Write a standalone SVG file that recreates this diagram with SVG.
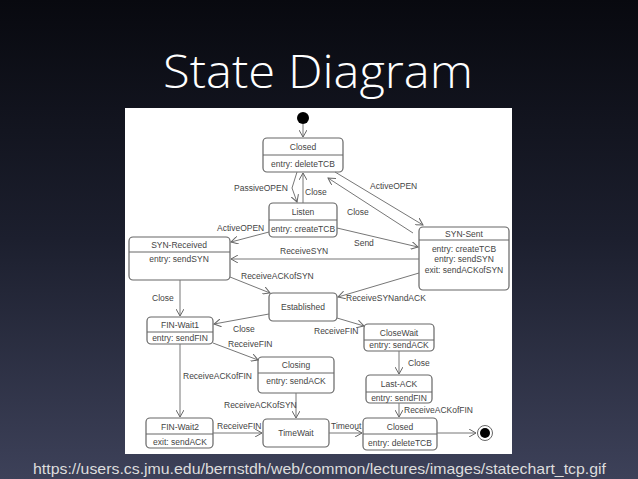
<svg xmlns="http://www.w3.org/2000/svg" width="638" height="479" viewBox="0 0 638 479">
<defs>
<linearGradient id="bg" x1="0" y1="0" x2="0" y2="1"><stop offset="0" stop-color="#08090f"/><stop offset="0.5" stop-color="#1c1f2e"/><stop offset="1" stop-color="#3d4159"/></linearGradient>
<marker id="a" markerWidth="8" markerHeight="8" refX="7" refY="4" orient="auto" markerUnits="userSpaceOnUse"><path d="M0,0 L7,4 L0,8" fill="none" stroke="#666" stroke-width="1"/></marker>
<style>
.n rect{fill:#fff;stroke:#666;stroke-width:1.2}
.n line{stroke:#666;stroke-width:1}
text{font-family:"Liberation Sans",Arial,sans-serif}
.t{font-size:8.5px;fill:#444;text-anchor:middle}
.l{font-size:8.5px;fill:#444}
#edges path{fill:none;stroke:#777;stroke-width:1;marker-end:url(#a)}
</style>
</defs>
<rect width="638" height="479" fill="url(#bg)"/>
<text x="163" y="88" font-size="46" fill="#fff" textLength="310" lengthAdjust="spacingAndGlyphs" style="font-family:'Open Sans','Liberation Sans',sans-serif;font-weight:300">State Diagram</text>
<rect x="125" y="108" width="387" height="346" fill="#fff"/>
<g id="init"><circle cx="303" cy="118" r="6" fill="#000"/></g>
<g id="closed" class="n"><rect x="263" y="138" width="80" height="34" rx="4"/><line x1="263" y1="155" x2="343" y2="155"/><text class="t" x="303" y="150">Closed</text><text class="t" x="303" y="167">entry: deleteTCB</text></g>
<g id="listen" class="n"><rect x="269" y="203" width="68" height="34" rx="4"/><line x1="269" y1="220" x2="337" y2="220"/><text class="t" x="303" y="215">Listen</text><text class="t" x="303" y="232">entry: createTCB</text></g>
<g id="synrecv" class="n"><rect x="129" y="237" width="101" height="43" rx="4"/><line x1="129" y1="252" x2="230" y2="252"/><text class="t" x="179" y="248">SYN-Received</text><text class="t" x="179" y="262">entry: sendSYN</text></g>
<g id="synsent" class="n"><rect x="419" y="227" width="90" height="63" rx="4"/><line x1="419" y1="240" x2="509" y2="240"/><text class="t" x="464" y="237">SYN-Sent</text><text class="t" x="464" y="252">entry: createTCB</text><text class="t" x="464" y="262">entry: sendSYN</text><text class="t" x="464" y="273">exit: sendACKofSYN</text></g>
<g id="established" class="n"><rect x="269" y="293" width="68" height="28" rx="4"/><text class="t" x="303" y="310">Established</text></g>
<g id="finwait1" class="n"><rect x="147" y="317" width="66" height="27" rx="4"/><line x1="147" y1="332" x2="213" y2="332"/><text class="t" x="180" y="328">FIN-Wait1</text><text class="t" x="180" y="341">entry: sendFIN</text></g>
<g id="closewait" class="n"><rect x="364" y="324" width="70" height="27" rx="4"/><line x1="364" y1="340" x2="434" y2="340"/><text class="t" x="399" y="336">CloseWait</text><text class="t" x="399" y="348">entry: sendACK</text></g>
<g id="closing" class="n"><rect x="258" y="357" width="76" height="36" rx="4"/><line x1="258" y1="373" x2="334" y2="373"/><text class="t" x="296" y="368">Closing</text><text class="t" x="296" y="384">entry: sendACK</text></g>
<g id="lastack" class="n"><rect x="366" y="375" width="66" height="28" rx="4"/><line x1="366" y1="392" x2="432" y2="392"/><text class="t" x="399" y="387">Last-ACK</text><text class="t" x="399" y="401">entry: sendFIN</text></g>
<g id="finwait2" class="n"><rect x="146" y="418" width="67" height="30" rx="4"/><line x1="146" y1="434" x2="213" y2="434"/><text class="t" x="180" y="430">FIN-Wait2</text><text class="t" x="180" y="445">exit: sendACK</text></g>
<g id="timewait" class="n"><rect x="263" y="419" width="66" height="28" rx="4"/><text class="t" x="296" y="436">TimeWait</text></g>
<g id="closed2" class="n"><rect x="363" y="418" width="74" height="32" rx="4"/><line x1="363" y1="434" x2="437" y2="434"/><text class="t" x="400" y="430">Closed</text><text class="t" x="400" y="446">entry: deleteTCB</text></g>
<g id="final"><circle cx="485" cy="433" r="7.5" fill="#fff" stroke="#666"/><circle cx="485" cy="433" r="5" fill="#000"/></g>
<g id="edges">
<path d="M303,124 L303,137"/>
<path d="M297,172 L292,188 L297,202"/>
<path d="M303,203 L303,173"/>
<path d="M335,172 L423,225"/>
<path d="M413,233 L328,178"/>
<path d="M269,232 L231,242"/>
<path d="M337,228 L418,247"/>
<path d="M419,259 L231,259"/>
<path d="M230,277 L270,293"/>
<path d="M419,273 L338,297"/>
<path d="M180,280 L180,316"/>
<path d="M269,314 L214,324"/>
<path d="M337,318 L364,326"/>
<path d="M213,343 L258,360"/>
<path d="M180,344 L180,417"/>
<path d="M399,351 L399,374"/>
<path d="M296,393 L296,418"/>
<path d="M399,403 L399,417"/>
<path d="M213,433 L262,433"/>
<path d="M329,433 L362,433"/>
<path d="M437,433 L476,433"/>
</g>
<g id="labels">
<text class="l" x="234" y="191">PassiveOPEN</text>
<text class="l" x="305" y="195">Close</text>
<text class="l" x="370" y="189">ActiveOPEN</text>
<text class="l" x="347" y="215">Close</text>
<text class="l" x="217" y="231">ActiveOPEN</text>
<text class="l" x="354" y="246">Send</text>
<text class="l" x="280" y="254">ReceiveSYN</text>
<text class="l" x="241" y="279">ReceiveACKofSYN</text>
<text class="l" x="346" y="301">ReceiveSYNandACK</text>
<text class="l" x="152" y="301">Close</text>
<text class="l" x="233" y="332">Close</text>
<text class="l" x="314" y="334">ReceiveFIN</text>
<text class="l" x="228" y="347">ReceiveFIN</text>
<text class="l" x="183" y="379">ReceiveACKofFIN</text>
<text class="l" x="408" y="366">Close</text>
<text class="l" x="224" y="408">ReceiveACKofSYN</text>
<text class="l" x="404" y="413">ReceiveACKofFIN</text>
<text class="l" x="217" y="429">ReceiveFIN</text>
<text class="l" x="331" y="429">Timeout</text>
</g>
<text x="33" y="474" font-size="15" fill="#ddd" textLength="573" lengthAdjust="spacingAndGlyphs">https://users.cs.jmu.edu/bernstdh/web/common/lectures/images/statechart_tcp.gif</text>
</svg>
